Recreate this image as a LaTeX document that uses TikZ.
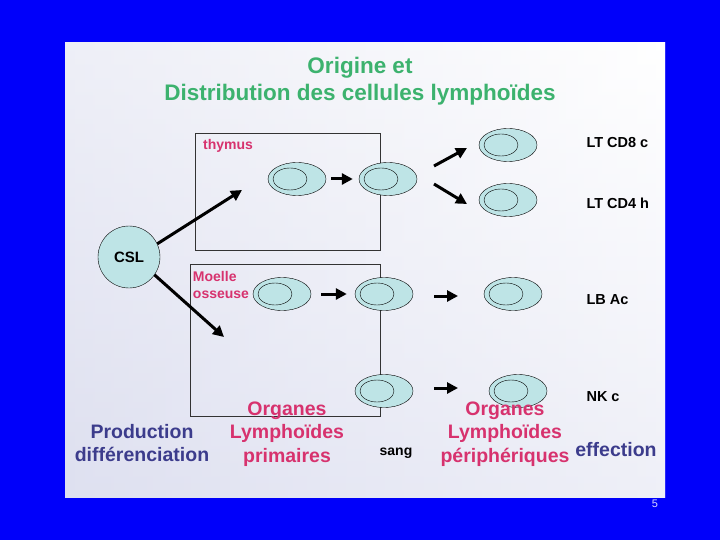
\documentclass[tikz,border=0pt]{standalone}
\usepackage{fontspec}
\setmainfont{Liberation Sans}
\usetikzlibrary{arrows.meta,shapes.geometric}
\definecolor{bg}{RGB}{0,0,250}
\definecolor{ttl}{RGB}{60,178,110}
\definecolor{pk}{RGB}{215,50,110}
\definecolor{bl}{RGB}{60,60,140}
\definecolor{cellc}{RGB}{190,228,230}
\definecolor{lav}{RGB}{222,224,240}
\tikzset{
 lbl/.style={font=\bfseries\fontsize{14.5}{16}\selectfont, anchor=west},
 big/.style={font=\bfseries\fontsize{19.5}{23.5}\selectfont, align=center},
 arr/.style={-{Triangle[length=11pt,width=11pt]}, line width=3pt},
 orgbox/.style={draw=black!80, line width=0.8pt},
}
\newcommand{\cell}[2]{%
 \node[draw, ellipse, fill=cellc, minimum width=58pt, minimum height=33pt, inner sep=0pt] (#1) at (#2) {};
 \draw ([xshift=-7pt]#1.center) ellipse (17pt and 11pt);}
\begin{document}
\begin{tikzpicture}[x=1pt,y=-1pt]
\useasboundingbox (0,0) rectangle (720,540);
\fill[bg] (0,0) rectangle (720,540);
\shade[top color=white, bottom color=lav] (65,43) rectangle (665,497);
\shade[left color=lav, right color=white, opacity=0.5] (65,43) rectangle (665,497);
\node[font=\bfseries\fontsize{22.5}{26}\selectfont, text=ttl] (t1) at (360,68) {Origine et};
\node[font=\bfseries\fontsize{22.5}{26}\selectfont, text=ttl] (t2) at (360,95) {Distribution des cellules lymphoïdes};
\draw[orgbox] (195,133) rectangle (380,250);
\draw[orgbox] (190,264) rectangle (380,416);
\node[draw, circle, fill=cellc, minimum size=62pt, font=\bfseries\fontsize{15}{16}\selectfont] (csl) at (129,257) {CSL};
\cell{a1}{297,179}
\cell{a2}{388,179}
\cell{c8}{508,145}
\cell{c4}{508,200}
\cell{b1}{282,294}
\cell{b2}{384,294}
\cell{lb}{513,294}
\cell{n1}{384,391}
\cell{nk}{518,391}
\coordinate (thy) at (242,190);
\coordinate (moe) at (224,337);
\draw[arr] (csl.25) -- (thy);
\draw[arr] (csl.-35) -- (moe);
\draw[arr] ([xshift=5pt]a1.east) -- ([xshift=-6pt]a2.west);
\draw[arr] ([xshift=10pt]b1.east) -- ([xshift=-8pt]b2.west);
\coordinate (d1) at (434,166); \coordinate (d2) at (434,184);
\coordinate (h1) at (434,296); \coordinate (h2) at (434,388);
\draw[arr] (d1) -- (467,148);
\draw[arr] (d2) -- (467,204);
\draw[arr] (h1) -- (458,296);
\draw[arr] (h2) -- (458,388);
\node[font=\bfseries\fontsize{14}{15}\selectfont, text=pk] (thl) at (228,146) {thymus};
\node[font=\bfseries\fontsize{14}{17}\selectfont, text=pk, align=left] (mol) at (221,285) {Moelle\\osseuse};
\node[lbl] (l1) at (583,143) {LT CD8 c};
\node[lbl] (l2) at (583,203) {LT CD4 h};
\node[lbl] (l3) at (583,300) {LB Ac};
\node[lbl] (l4) at (583,397) {NK c};
\node[big, text=bl] (prod) at (142,443) {Production\\différenciation};
\node[big, text=pk] (op) at (287,434) {Organes\\Lymphoïdes\\primaires};
\node[font=\bfseries\fontsize{14}{15}\selectfont] (sang) at (396,453) {sang};
\node[big, text=pk] (oper) at (505,434) {Organes\\Lymphoïdes\\périphériques};
\node[big, text=bl] (eff) at (616,450) {effection};
\node[font=\fontsize{11}{12}\selectfont, text=white!85!blue] (pg) at (655,504) {5};
\end{tikzpicture}
\end{document}
